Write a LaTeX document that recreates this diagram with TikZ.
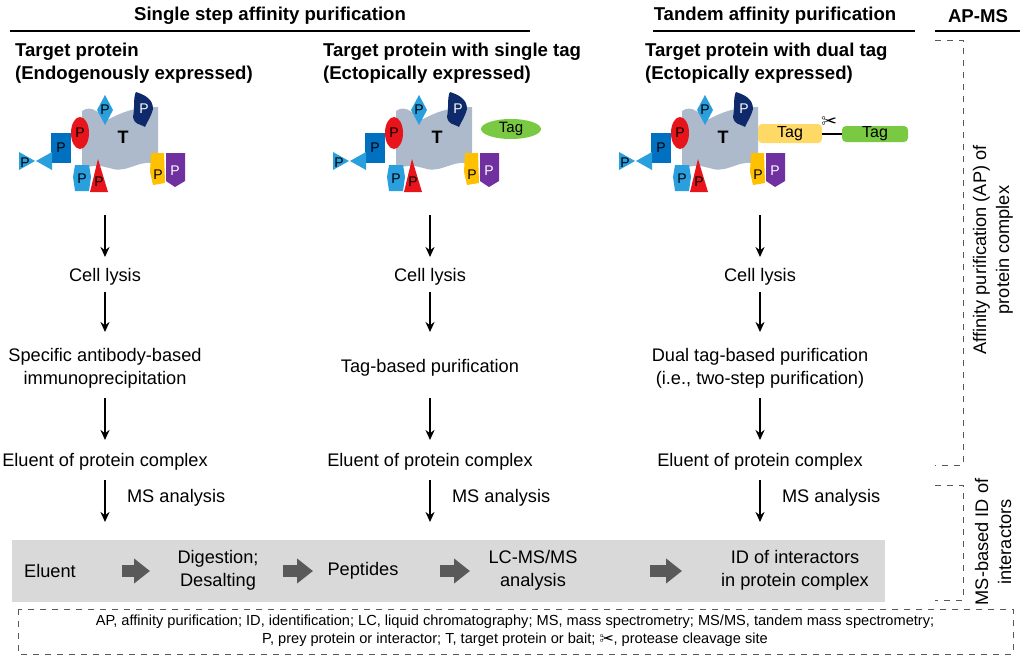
\documentclass[tikz,border=0pt]{standalone}
\usepackage{fontspec,pifont}
\usetikzlibrary{arrows.meta}
\setmainfont{Liberation Sans}
\definecolor{lblue}{HTML}{29A0DD}
\definecolor{dblue}{HTML}{0070C0}
\definecolor{pred}{HTML}{E8141B}
\definecolor{navy}{HTML}{0F2A6B}
\definecolor{pyel}{HTML}{FFC000}
\definecolor{ppur}{HTML}{7030A0}
\definecolor{tbody}{HTML}{ADBACB}
\definecolor{tgreen}{HTML}{7AC943}
\definecolor{tyel}{HTML}{FFD966}
\definecolor{band}{HTML}{D9D9D9}
\definecolor{darr}{HTML}{595959}
\tikzset{
  txt/.style={font=\fontsize{9.1}{11.5}\selectfont,align=center},
  head/.style={font=\bfseries\fontsize{9.3}{11.5}\selectfont},
  ttl/.style={font=\bfseries\fontsize{9.3}{11.5}\selectfont,align=left,anchor=west},
  arr/.style={-{Stealth[length=5pt,width=4.5pt]},line width=0.9pt},
  fat/.style={-{Triangle[length=8pt,width=12pt]},line width=6pt,darr},
  pl/.style={font=\fontsize{7}{8}\selectfont},
  dsh/.style={dashed,line width=0.5pt,gray!70!black},
  pics/complex/.style={code={
    \fill[tbody] (-41,-26) .. controls (-30,-34) and (-22,-20) .. (-14,-18)
      .. controls (-2,-24) and (10,-30) .. (35,-30) -- (35,28)
      .. controls (20,20) and (5,36) .. (-10,32) .. controls (-25,28) .. (-41,31) -- cycle;
    \node[font=\bfseries\fontsize{9}{10}\selectfont] at (0,0) {T};
    \fill[pred] (-43,-4) ellipse (9 and 16); \node[pl] at (-43,-4) {P};
    \fill[lblue] (-18,-42) -- (-10,-27) -- (-18,-12) -- (-26,-27) -- cycle; \node[pl] at (-18,-27) {P};
    \fill[navy] (13,-45) .. controls (22,-42) and (30,-38) .. (30,-28) .. controls (28,-20) and (24,-15) .. (22,-10)
      .. controls (15,-14) and (12,-12) .. (10,-20) .. controls (12,-30) and (10,-40) .. cycle; \node[pl,white] at (21,-28) {P};
    \fill[dblue] (-72,-4) rectangle (-52,26); \node[pl] at (-62,11) {P};
    \fill[lblue] (-71,15) -- (-87,24) -- (-71,33) -- cycle;
    \fill[lblue] (-104,15) -- (-88,24) -- (-104,33) -- cycle; \node[pl] at (-98,26) {P};
    \fill[lblue] (-48,28) -- (-34,28) -- (-32,40) -- (-34,54) -- (-48,54) -- (-50,40) -- cycle; \node[pl] at (-41,42) {P};
    \fill[pred] (-25,22) -- (-15,55) -- (-33,55) -- cycle; \node[pl] at (-24,45) {P};
    \fill[pyel] (28,16) -- (41,16) -- (42,46) -- (30,48) -- (27,35) -- cycle; \node[pl] at (35,38) {P};
    \fill[ppur] (43,16) -- (62,16) -- (62,44) -- (52,50) -- (43,44) -- cycle; \node[pl,white] at (52,34) {P};
  }}
}
\begin{document}
\begin{tikzpicture}[x=0.5pt,y=-0.5pt]
\useasboundingbox (0,0) rectangle (1024,659);
% headings
\node[head] (h1) at (270,16) {Single step affinity purification};
\node[head] (h2) at (775,16) {Tandem affinity purification};
\node[head] (h3) at (978,16) {AP-MS};
\draw[line width=1pt] (10,31) -- (530,31) (653,31) -- (915,31) (935,31) -- (1020,31);
\node[ttl] (t1) at (8,63) {Target protein\\(Endogenously expressed)};
\node[ttl] (t2) at (316,63) {Target protein with single tag\\(Ectopically expressed)};
\node[ttl] (t3) at (638,63) {Target protein with dual tag\\(Ectopically expressed)};
% complexes
\pic at (123,137) {complex};
\pic at (437,137) {complex};
\pic at (723,137) {complex};
\fill[tgreen] (511,129) ellipse (30 and 10);
\node[pl,font=\fontsize{7.5}{8}\selectfont] (tag1) at (511,129) {Tag};
\fill[tyel,rounded corners=2pt] (758,124) rectangle (822,143);
\node[txt,font=\fontsize{8}{9}\selectfont] (tag2) at (790,133.5) {Tag};
\fill[tgreen,rounded corners=2pt] (842,126) rectangle (908,142);
\node[txt,font=\fontsize{8}{9}\selectfont] (tag3) at (875,134) {Tag};
\draw[line width=1.2pt] (822,134) -- (842,134);
\node[font=\fontsize{8}{9}\selectfont] (sc) at (829,122) {\ding{34}};
% columns
\foreach \c/\x/\s in {1/105/{Specific antibody-based\\immunoprecipitation},2/430/{Tag-based purification},3/760/{Dual tag-based purification\\(i.e., two-step purification)}}{
  \node[txt] (l\c) at (\x,277) {Cell lysis};
  \node[txt] (s\c) at (\x,368) {\s};
  \node[txt] (e\c) at (\x,462) {Eluent of protein complex};
  \draw[arr] (\x,215) -- (\x,257);
  \draw[arr] (\x,292) -- (\x,332);
  \draw[arr] (\x,398) -- (\x,440);
  \draw[arr] (\x,480) -- (\x,522);
  \node[txt,anchor=west] at (\x+15,498) {MS analysis};
}
% MS band
\fill[band] (12,540) rectangle (885,602);
\node[txt] (b1) at (50,571) {Eluent};
\node[txt] (b2) at (218,570) {Digestion;\\Desalting};
\node[txt] (b3) at (363,571) {Peptides};
\node[txt] (b4) at (533,570) {LC-MS/MS\\analysis};
\node[txt] (b5) at (795,570) {ID of interactors\\in protein complex};
\draw[fat] (122,571) -- (150,571);
\draw[fat] (283,571) -- (313,571);
\draw[fat] (440,571) -- (470,571);
\draw[fat] (650,571) -- (682,571);
% right brackets
\draw[dsh] (935,40) -- (963,40) -- (963,465) -- (935,465);
\draw[dsh] (935,485) -- (963,485) -- (963,600) -- (935,600);
\node[txt,rotate=90] (r1) at (993,250) {Affinity purification (AP) of\\protein complex};
\node[txt,rotate=90] (r2) at (993,542) {MS-based ID of\\interactors};
% legend
\draw[dsh] (18,609) rectangle (1013,654);
\node[txt,font=\fontsize{7.3}{9.2}\selectfont] (leg) at (515,631) {AP, affinity purification; ID, identification; LC, liquid chromatography; MS, mass spectrometry; MS/MS, tandem mass spectrometry;\\P, prey protein or interactor; T, target protein or bait; \ding{34}, protease cleavage site};
\end{tikzpicture}
\end{document}
